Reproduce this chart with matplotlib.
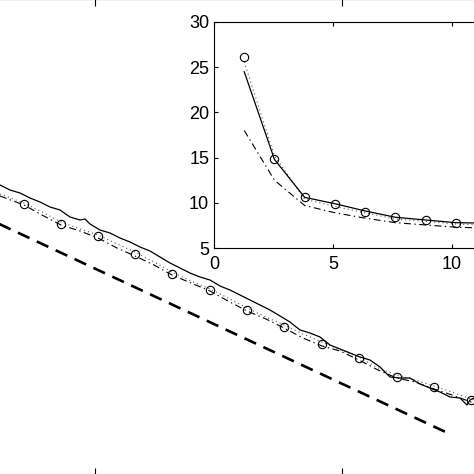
import matplotlib
matplotlib.use("Agg")
import matplotlib.pyplot as plt

plt.rcParams['font.family'] = ['Liberation Sans', 'DejaVu Sans']
plt.rcParams['lines.scale_dashes'] = False

# ---------------- main plot data (units: image-pixel scale, y measured downward) -------------
main_xticks = [95, 342]

solid_x = [0, 10, 20, 30, 40, 50, 60, 70, 80, 85, 90, 100, 110, 120, 130, 140, 150, 160, 170,
           180, 190, 200, 210, 220, 230, 240, 250, 260, 270, 280, 290, 300, 310, 320, 330,
           340, 350, 360, 370, 380, 390, 400, 410, 420, 430, 440, 450, 460, 467, 470, 474]
solid_y = [185, 190, 193, 198, 202, 207, 210, 217, 220, 219, 224, 230, 233, 238, 242, 247, 251,
           257, 263, 268, 273, 277, 280, 286, 290, 295, 300, 305, 310, 316, 322, 330, 333, 337,
           345, 349, 353, 357, 360, 367, 377, 378, 378, 384, 388, 392, 397, 398, 405, 400, 398]

circ_x = [24, 61, 98, 135, 172, 210, 247, 284, 322, 359, 397, 434, 471]
circ_y = [204, 224, 236, 254, 274, 290, 310, 327, 344, 358, 377, 387, 400]

ref_x = [0, 24, 42, 61, 80, 98, 117, 135, 154, 172, 191, 210, 228, 247, 266, 284, 303, 322,
         340, 359, 378, 397, 415, 434, 452, 471, 474]
dashdot_y = [196, 205, 215, 225, 231, 238, 248, 256, 265, 275, 283, 291, 301, 311, 319, 328,
             338, 346, 351, 360, 370, 378, 382, 389, 395, 402, 403]
dotted_y = [194, 203, 212, 222, 229, 235, 244, 252, 262, 272, 281, 289, 298, 308, 317, 325,
            334, 342, 350, 357, 368, 375, 380, 386, 392, 399, 400]

dashed_x = [-20, 452]
dashed_y = [215, 435]

# ---------------- inset data -------------
in_x = [1.27, 2.54, 3.81, 5.08, 6.35, 7.62, 8.89, 10.16, 11.43, 12.70]
in_circle = [26.1, 14.8, 10.6, 9.9, 9.0, 8.4, 8.1, 7.8, 7.75, 7.7]
in_solid = [24.5, 14.8, 10.6, 9.9, 9.1, 8.4, 8.1, 7.8, 7.75, 7.7]
in_dotted = [25.6, 15.2, 10.4, 9.6, 8.9, 8.2, 7.95, 7.65, 7.55, 7.5]
in_dashdot = [18.0, 12.5, 9.7, 8.9, 8.3, 7.8, 7.55, 7.3, 7.2, 7.1]

W = H = 474
fig = plt.figure(figsize=(4.74, 4.74), dpi=100)

# main axes slightly larger than figure so spines are off-image
L, R, T, B = -20, 494, -1, 475
ax = fig.add_axes([L / W, 1 - B / H, (R - L) / W, (B - T) / H])
ax.set_xlim(L, R)
ax.set_ylim(B, T)
ax.plot(dashed_x, dashed_y, color='black', lw=1.9, dashes=(9.2, 5.8))
ax.plot(ref_x, dotted_y, color='0.35', lw=0.8, dashes=(0.8, 2.2))
ax.plot(ref_x, dashdot_y, color='black', lw=0.8, dashes=(5, 2.5, 1, 2.5))
ax.plot(solid_x, solid_y, color='black', lw=0.9)
ax.plot(circ_x, circ_y, 'o', mfc='none', mec='black', ms=6, mew=0.8)
ax.set_xticks(main_xticks)
ax.set_yticks([])
ax.tick_params(axis='x', direction='in', length=5.2, width=0.8, top=True, bottom=True,
               labelbottom=False, labeltop=False)
for s in ax.spines.values():
    s.set_linewidth(0.8)

# inset
x0_px, top_px, bot_px = 214, 22, 248
xmax = 12.5
px_per_unit = (333 - 214) / 5.0
right_px = x0_px + xmax * px_per_unit
axi = fig.add_axes([x0_px / W, 1 - bot_px / H, (right_px - x0_px) / W, (bot_px - top_px) / H])
axi.set_facecolor('white')
axi.plot(in_x, in_dotted, color='0.35', lw=0.8, dashes=(0.8, 2.2))
axi.plot(in_x, in_dashdot, color='black', lw=0.8, dashes=(5, 2.5, 1, 2.5))
axi.plot(in_x, in_solid, color='black', lw=0.9)
axi.plot(in_x, in_circle, 'o', mfc='none', mec='black', ms=6, mew=0.8)
axi.set_xlim(0, xmax)
axi.set_ylim(5, 30)
axi.set_xticks([0, 5, 10])
axi.set_yticks([5, 10, 15, 20, 25, 30])
axi.tick_params(direction='in', length=3, width=0.8, top=True, right=True, labelsize=13)
axi.tick_params(axis='x', pad=6)
axi.tick_params(axis='y', pad=3.5)
for s in axi.spines.values():
    s.set_linewidth(0.8)

fig.savefig('out.png', dpi=100)
